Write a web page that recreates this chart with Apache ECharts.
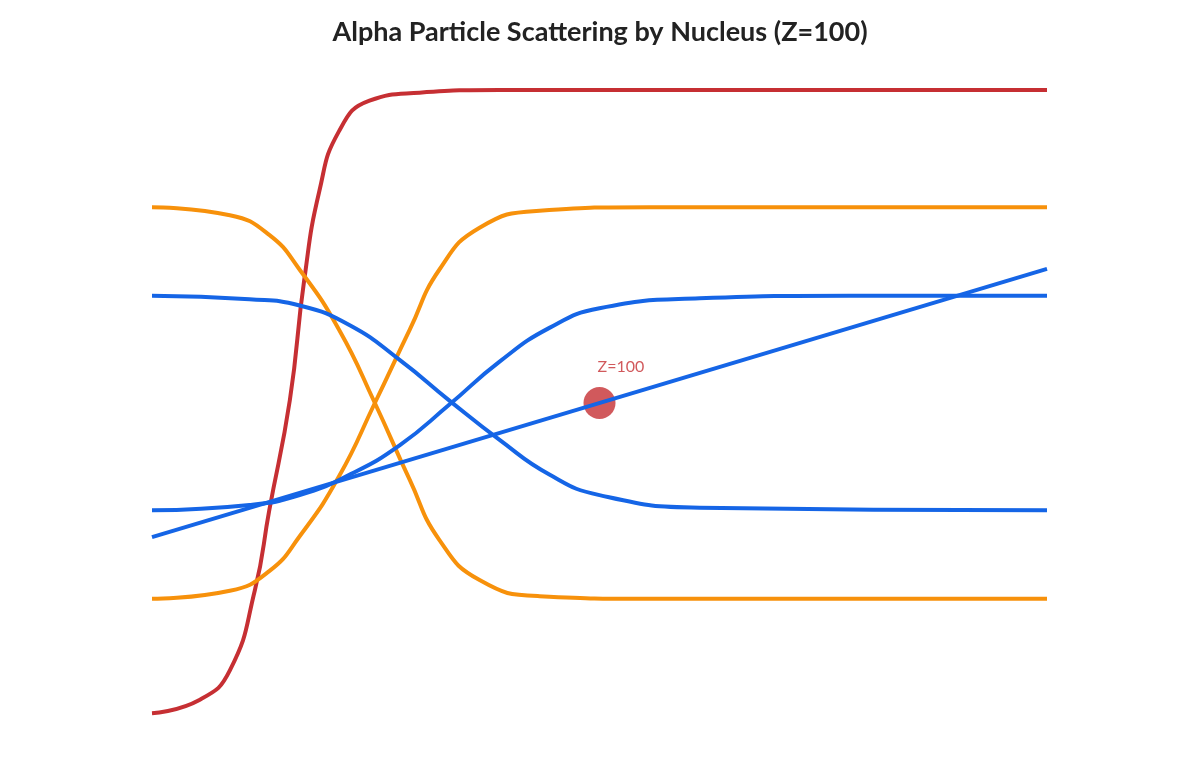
<!DOCTYPE html>
<html>
<head>
<meta charset="utf-8">
<script src="https://cdn.jsdelivr.net/npm/echarts@6/dist/echarts.min.js"></script>
<style>html,body{margin:0;padding:0;background:#fff}#chart-container{width:1200px;height:763px}</style>
</head>
<body>
<div id="chart-container"></div>
<script>
var dom = document.getElementById('chart-container');
var myChart = echarts.init(dom, null, { renderer: 'canvas' });

// trajectories, [x, y]
var redPath = [[-5,-3.47],[-4.47,-3.32],[-4.13,-2.99],[-3.85,-2.09],[-3.69,-1.2],[-3.46,0.03],[-3.30,1.37],[-3.13,2.37],[-2.91,3.04],[-2.57,3.38],[-2.01,3.47],[-1.12,3.5],[5,3.5]];
var orangeDown = [[-5,2.19],[-4.13,2.10],[-3.69,1.88],[-3.35,1.49],[-2.91,0.82],[-2.51,0],[-2.12,-0.86],[-1.79,-1.53],[-1.34,-1.98],[-0.67,-2.16],[0.56,-2.19],[5,-2.19]];
var orangeUp = [[-5,-2.19],[-4.13,-2.10],[-3.69,-1.88],[-3.35,-1.49],[-2.91,-0.82],[-2.51,0],[-2.12,0.82],[-1.79,1.49],[-1.34,1.96],[-0.67,2.15],[0.56,2.19],[5,2.19]];
var blueDown = [[-5,1.2],[-3.91,1.16],[-3.35,1.09],[-2.79,0.87],[-2.23,0.48],[-1.68,0.03],[-1.12,-0.41],[-0.56,-0.8],[0,-1.03],[1.12,-1.17],[5,-1.2]];
var blueUp = [[-5,-1.2],[-3.91,-1.14],[-3.35,-1.03],[-2.79,-0.8],[-2.23,-0.47],[-1.68,-0.02],[-1.12,0.46],[-0.56,0.84],[0,1.06],[1.12,1.17],[2.79,1.2],[5,1.2]];
var straightPath = [[-5,-1.5],[5,1.5]];
var nucleus = [[0,0]];

var red = '#c62f33', orange = '#f7910b', blue = '#1565e6';

function line(data, color) {
  return { type: 'line', data: data, smooth: true, showSymbol: false, symbol: 'none',
    lineStyle: { color: color, width: 4 }, z: 2 };
}

var option = {
  title: {
    text: 'Alpha Particle Scattering by Nucleus (Z=100)',
    left: 'center', top: 14,
    textStyle: { fontFamily: 'Lato', fontWeight: 'bold', fontSize: 27, color: '#222' }
  },
  grid: { left: 152, right: 153, top: 90, bottom: 47 },
  xAxis: { type: 'value', min: -5, max: 5, show: false },
  yAxis: { type: 'value', min: -3.5, max: 3.5, show: false },
  series: [
    line(redPath, red),
    line(orangeDown, orange),
    line(orangeUp, orange),
    line(blueDown, blue),
    line(blueUp, blue),
    line(straightPath, blue),
    {
      type: 'scatter', data: nucleus, symbolSize: 32, z: 1,
      itemStyle: { color: red },
      label: { show: true, formatter: 'Z=100', position: [14, -28], color: red,
        fontSize: 16, fontFamily: 'Lato' }
    }
  ]
};

myChart.setOption(option);
window.addEventListener('resize', myChart.resize);
</script>
</body>
</html>
